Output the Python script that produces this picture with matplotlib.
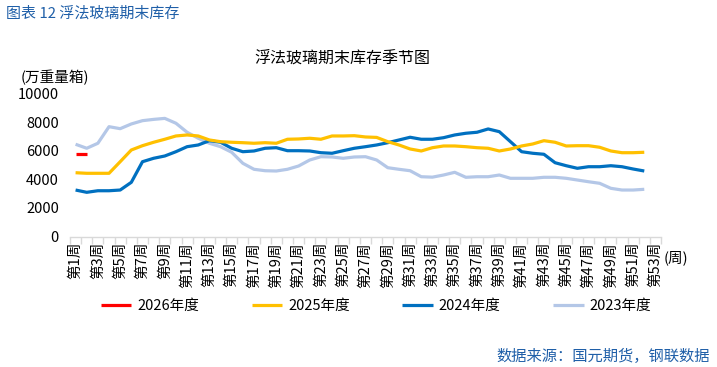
import matplotlib
matplotlib.use("Agg")
import matplotlib.pyplot as plt
from matplotlib.ticker import FixedLocator

plt.rcParams['font.family'] = ['Noto Sans CJK SC', 'DejaVu Sans']

weeks = [f"第{i}周" for i in range(1, 54)]

s2026 = [5750, 5750]
s2025 = [4460, 4420, 4420, 4420, 5230, 6050, 6350, 6590, 6800, 7030,
         7100, 7030, 6750, 6630, 6590, 6560, 6520, 6560, 6520, 6800,
         6820, 6870, 6800, 7030, 7030, 7050, 6960, 6930, 6630, 6400,
         6120, 5980, 6210, 6330, 6330, 6280, 6210, 6170, 5980, 6120,
         6330, 6470, 6700, 6590, 6330, 6350, 6350, 6240, 5980, 5860,
         5860, 5890]
s2024 = [3250, 3090, 3200, 3200, 3250, 3790, 5230, 5470, 5630, 5930,
         6280, 6400, 6700, 6590, 6170, 5930, 5980, 6170, 6210, 6000,
         6000, 5980, 5860, 5820, 6000, 6170, 6280, 6400, 6560, 6750,
         6940, 6800, 6800, 6910, 7100, 7220, 7290, 7520, 7330, 6630,
         5930, 5820, 5750, 5160, 4950, 4770, 4880, 4880, 4950, 4880,
         4720, 4580]
s2023 = [6450, 6170, 6520, 7680, 7540, 7870, 8100, 8190, 8260, 7920,
         7290, 6870, 6520, 6280, 5890, 5120, 4700, 4600, 4580, 4700,
         4930, 5350, 5580, 5560, 5470, 5560, 5580, 5350, 4810, 4700,
         4600, 4180, 4150, 4300, 4490, 4140, 4180, 4180, 4300, 4070,
         4070, 4070, 4140, 4140, 4070, 3950, 3830, 3720, 3370, 3250,
         3250, 3300]

series = [("2026年度", s2026, "#FF0000"),
          ("2025年度", s2025, "#FFC000"),
          ("2024年度", s2024, "#0070C0"),
          ("2023年度", s2023, "#B4C7E7")]

W, H = 717, 367
fig = plt.figure(figsize=(W / 100, H / 100), dpi=100)
ax = fig.add_axes([70 / W, 1 - 236.5 / H, (661 - 70) / W, (236.5 - 93.5) / H])

# draw older first so newer on top
for name, vals, col in reversed(series):
    ax.plot(range(len(vals)), vals, color=col, lw=2.3, label=name,
            solid_capstyle='butt', solid_joinstyle='round')

ax.set_xlim(-0.5, len(weeks) - 0.5)
ax.set_ylim(0, 10000)
ax.set_yticks(range(0, 10001, 2000))
ax.tick_params(axis='y', length=0, labelsize=10.5, pad=8)

major = list(range(0, len(weeks), 2))
ax.set_xticks(major)
ax.set_xticklabels([weeks[i] for i in major], rotation=90, fontsize=10.5)
ax.tick_params(axis='x', which='major', length=0, pad=4)
ax.xaxis.set_minor_locator(FixedLocator([i - 0.5 for i in range(len(weeks) + 1)]))
ax.tick_params(axis='x', which='minor', length=5, color='#D9D9D9', width=1)

for s in ['top', 'right', 'left']:
    ax.spines[s].set_visible(False)
ax.spines['bottom'].set_color('#D9D9D9')
ax.spines['bottom'].set_linewidth(1)

fig.text(6 / W, 1 - 13 / H, "图表 12 浮法玻璃期末库存", color='#1F5FA8',
         fontsize=10.8, va='center', ha='left')
fig.text(342 / W, 1 - 58 / H, "浮法玻璃期末库存季节图", color='black',
         fontsize=11.5, va='center', ha='center')
fig.text(21 / W, 1 - 77 / H, "(万重量箱)", color='black',
         fontsize=10.5, va='center', ha='left')
fig.text(664 / W, 1 - 258 / H, "(周)", color='black',
         fontsize=10.5, va='center', ha='left')
fig.text(710 / W, 1 - 356 / H, "数据来源：国元期货，钢联数据", color='#1F5FA8',
         fontsize=11, va='center', ha='right')

handles, labels = ax.get_legend_handles_labels()
handles, labels = handles[::-1], labels[::-1]
fig.legend(handles, labels, loc='center', bbox_to_anchor=(376 / W, 1 - 306 / H),
           ncol=4, frameon=False, fontsize=10.5, handlelength=2.1,
           columnspacing=3.6, handletextpad=0.4)

fig.savefig("out.png", dpi=100)
